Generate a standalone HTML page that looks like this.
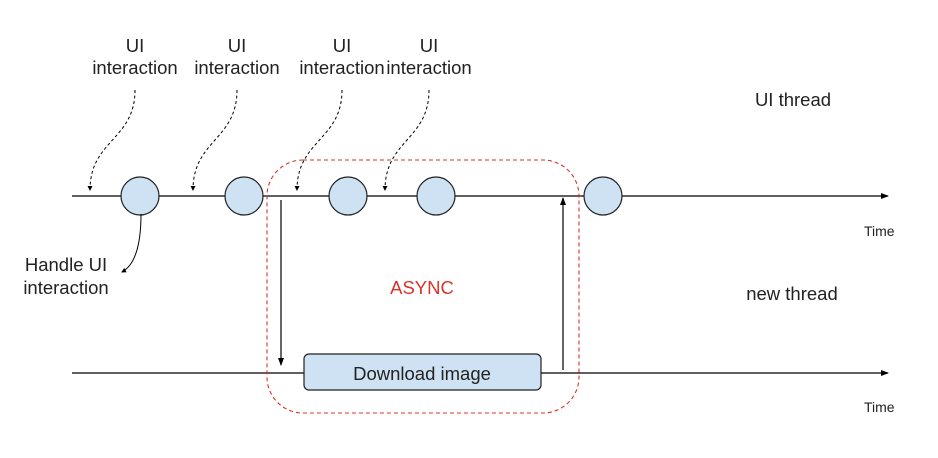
<!DOCTYPE html>
<html><head><meta charset="utf-8"><style>
html,body{margin:0;padding:0;background:#fff;}
svg{display:block;}
text{font-family:"Liberation Sans",Arial,sans-serif;fill:#222;}
</style></head><body>
<svg width="938" height="458" viewBox="0 0 938 458" xmlns="http://www.w3.org/2000/svg">
<defs>
<marker id="a" markerWidth="8" markerHeight="6" refX="7" refY="3" orient="auto" markerUnits="userSpaceOnUse"><path d="M0,0 L8,3 L0,6 Z" fill="#000"/></marker>
<marker id="s" markerWidth="5" markerHeight="5" refX="4" refY="2.5" orient="auto" markerUnits="userSpaceOnUse"><path d="M0,0 L5,2.5 L0,5 Z" fill="#000"/></marker>
</defs>
<line x1="72" y1="196" x2="888" y2="196" stroke="#000" stroke-width="1.2" marker-end="url(#a)"/>
<line x1="72" y1="373" x2="888" y2="373" stroke="#000" stroke-width="1.2" marker-end="url(#a)"/>
<rect x="267" y="160" width="312" height="253" rx="36" fill="none" stroke="#d9342b" stroke-width="1.1" stroke-dasharray="4,3"/>
<g fill="#cfe2f3" stroke="#222" stroke-width="1.2">
<ellipse cx="140" cy="196" rx="19" ry="19"/>
<ellipse cx="244" cy="196" rx="19" ry="19"/>
<ellipse cx="348" cy="196" rx="19" ry="19"/>
<ellipse cx="436" cy="196" rx="19" ry="19"/>
<ellipse cx="603" cy="196" rx="19" ry="19"/>
<rect x="304" y="354" width="237" height="36" rx="5"/>
</g>
<line x1="281" y1="200" x2="281" y2="365" stroke="#000" stroke-width="1.2" marker-end="url(#a)"/>
<line x1="563" y1="370" x2="563" y2="198" stroke="#000" stroke-width="1.2" marker-end="url(#a)"/>
<g fill="none" stroke="#000" stroke-width="1" stroke-dasharray="3,2.5">
<path d="M135,90 C135,140 90,140 90,190" marker-end="url(#s)"/>
<path d="M237,90 C237,140 193,140 193,190" marker-end="url(#s)"/>
<path d="M342,90 C342,140 297,140 297,190" marker-end="url(#s)"/>
<path d="M429,90 C429,140 385,140 385,190" marker-end="url(#s)"/>
</g>
<path d="M141,214 C141,245 135,265 122,272" fill="none" stroke="#000" stroke-width="1" marker-end="url(#s)"/>
<g font-size="18.5" text-anchor="middle">
<text x="135" y="52">UI</text><text x="135" y="74">interaction</text>
<text x="237" y="52">UI</text><text x="237" y="74">interaction</text>
<text x="342" y="52">UI</text><text x="342" y="74">interaction</text>
<text x="429" y="52">UI</text><text x="429" y="74">interaction</text>
<text x="66" y="271">Handle UI</text><text x="66" y="294">interaction</text>
<text x="793" y="106">UI thread</text>
<text x="792" y="300">new thread</text>
<text x="422" y="294" style="fill:#d9342b">ASYNC</text>
<text x="422" y="380">Download image</text>
</g>
<text x="864" y="236" font-size="14">Time</text>
<text x="864" y="412" font-size="14">Time</text>
</svg>
</body></html>
